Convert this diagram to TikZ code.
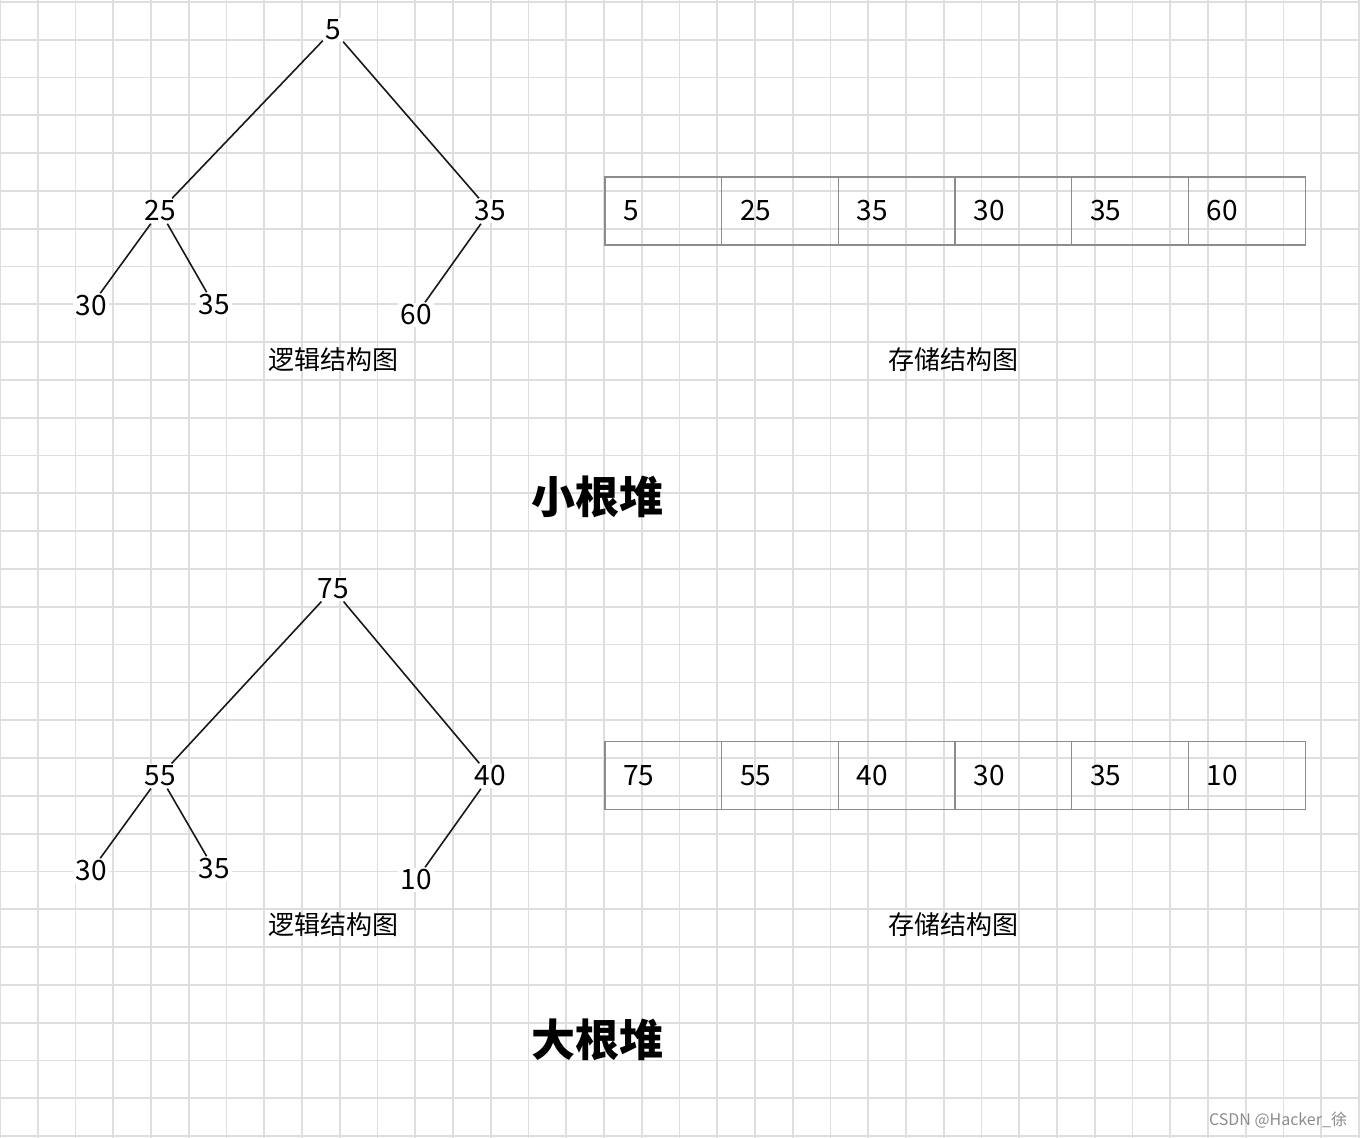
\documentclass[tikz,border=0pt]{standalone}
\usepackage{fontspec}
\setmainfont{Noto Sans CJK SC}
\usepackage{tikz}
\usetikzlibrary{positioning}
\tikzset{num/.style={fill=white,inner sep=1pt,font=\fontsize{14}{16}\selectfont}}
\tikzset{caption/.style={inner sep=1pt,font=\fontsize{13}{15}\selectfont}}
\tikzset{title/.style={inner sep=1pt,font=\fontsize{22}{26}\selectfont\bfseries}}
\tikzset{cell/.style={rectangle,draw=black!45,semithick,minimum width=58.3pt,minimum height=34pt,inner sep=0pt,outer sep=0pt}}
\tikzset{edge/.style={draw=black!90,thick}}
\begin{document}
\begin{tikzpicture}[x=0.5pt,y=-0.5pt]
  \useasboundingbox (0,0) rectangle (1360,1138);
  \fill[white] (0,0) rectangle (1360,1138);
  % grid
  \foreach \k in {0,...,36}
    \draw[black!13,line width=0.9pt] (\k*37.75,0) -- (\k*37.75,1138);
  \foreach \k in {0,...,30}
    \draw[black!13,line width=0.9pt] (0,2+\k*37.8) -- (1360,2+\k*37.8);
  % small heap
  \node[num] (a1) at (333,30) {5};
  \node[num] (a2) at (160,211) {25};
  \node[num] (a3) at (490,211) {35};
  \node[num] (a4) at (91,306) {30};
  \node[num] (a5) at (214,305) {35};
  \node[num] (a6) at (416,315) {60};
  \draw[edge] (a1) -- (a2);
  \draw[edge] (a1) -- (a3);
  \draw[edge] (a2) -- (a4);
  \draw[edge] (a2) -- (a5);
  \draw[edge] (a3) -- (a6);
  \node[caption] (la) at (333,360) {逻辑结构图};
  \node[caption] (sa) at (953,360) {存储结构图};
  \node[title] (ta) at (597,497) {小根堆};
  \foreach \v [count=\i from 0] in {5,25,35,30,35,60} {
    \node[cell] (A\i) at (663.3+\i*116.7,211) {};
    \node[num,fill=none,anchor=west] at ([xshift=8pt]A\i.west) {\v};
  }
  % big heap
  \node[num] (b1) at (333,589) {75};
  \node[num] (b2) at (160,776) {55};
  \node[num] (b3) at (490,776) {40};
  \node[num] (b4) at (91,871) {30};
  \node[num] (b5) at (214,869) {35};
  \node[num] (b6) at (416,880) {10};
  \draw[edge] (b1) -- (b2);
  \draw[edge] (b1) -- (b3);
  \draw[edge] (b2) -- (b4);
  \draw[edge] (b2) -- (b5);
  \draw[edge] (b3) -- (b6);
  \node[caption] (lb) at (333,925) {逻辑结构图};
  \node[caption] (sb) at (953,925) {存储结构图};
  \node[title] (tb) at (597,1040) {大根堆};
  \foreach \v [count=\i from 0] in {75,55,40,30,35,10} {
    \node[cell] (B\i) at (663.3+\i*116.7,775.5) {};
    \node[num,fill=none,anchor=west] at ([xshift=8pt]B\i.west) {\v};
  }
  \node[inner sep=1pt,text=black!45,font=\fontsize{8}{10}\selectfont] (wm) at (1278,1120) {CSDN @Hacker\_徐};
\end{tikzpicture}
\end{document}
